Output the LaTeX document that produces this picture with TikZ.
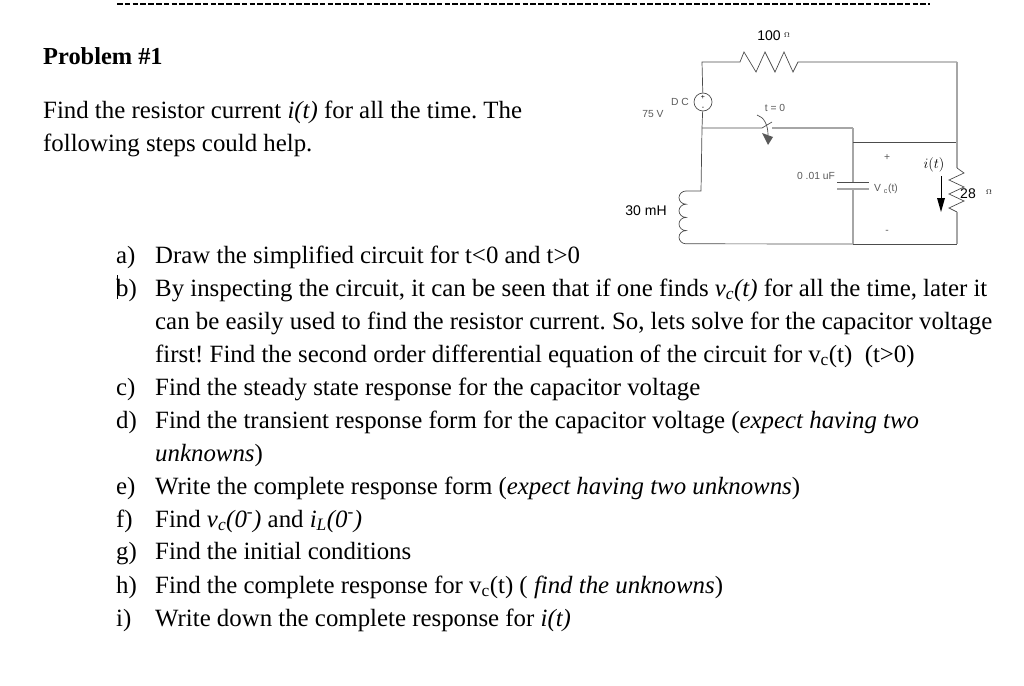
\documentclass[tikz,border=0pt]{standalone}
\usepackage{fontspec}
\setmainfont{Liberation Serif}
\setsansfont{Liberation Sans}
\usepackage{tikz}
\tikzset{
	line/.style={anchor=base west, inner sep=0pt, font=\fontsize{24.85}{25}\selectfont\frenchspacing},
	wire/.style={color=black!70, line width=0.7pt},
	greywire/.style={color=black!35, line width=1.2pt},
	small/.style={inner sep=0pt, font=\sffamily\fontsize{10.3}{11}\selectfont, color=black!65},
	big/.style={inner sep=0pt, font=\sffamily\fontsize{14}{14}\selectfont},
	ohm/.style={inner sep=0pt, font=\fontsize{7}{7}\selectfont}
}
\begin{document}
\begin{tikzpicture}[x=1pt, y=-1pt]
	\useasboundingbox (0, 0) rectangle (1024, 685);
	% top rule
	\draw [color=black, line width=1.5pt, dash pattern=on 5.6pt off 2.2pt] (117, 4) -- (930, 4);
	% text
	\node [line, font=\bfseries\fontsize{24.4}{25}\selectfont] (title) at (43, 64) {Problem \#1};
	\node [line] (intro1) at (43, 118) {Find the resistor current \textit{i(t)} for all the time. The};
	\node [line] (intro2) at (43, 151) {following steps could help.};
	\foreach \lab/\ypos in {a)/263, b)/296, c)/395, d)/428, e)/494, f)/527, g)/559, h)/593, i)/626}
		\node [line] at (116, \ypos) {\lab};
	\draw [color=black, line width=0.7pt] (117, 275) -- (117, 299);
	\node [line] (parta) at (155, 263) {Draw the simplified circuit for t<0 and t>0};
	\node [line] (partb1) at (155, 296) {By inspecting the circuit, it can be seen that if one finds \textit{v\textsubscript{c}(t)}\ for all the time, later it};
	\node [line] (partb2) at (155, 329) {can be easily used to find the resistor current. So, lets solve for the capacitor voltage};
	\node [line] (partb3) at (155, 362) {first! Find the second order differential equation of the circuit for v\textsubscript{c}(t)\ \ (t>0)};
	\node [line] (partc) at (155, 395) {Find the steady state response for the capacitor voltage};
	\node [line] (partd1) at (155, 428) {Find the transient response form for the capacitor voltage (\textit{expect having two}};
	\node [line] (partd2) at (155, 461) {\textit{unknowns})};
	\node [line] (parte) at (155, 494) {Write the complete response form (\textit{expect having two unknowns})};
	\node [line] (partf) at (155, 527) {Find \textit{v\textsubscript{c}(0\textsuperscript{-})} and \textit{i\textsubscript{L}(0\textsuperscript{-})}};
	\node [line] (partg) at (155, 559) {Find the initial conditions};
	\node [line] (parth) at (155, 593) {Find the complete response for v\textsubscript{c}(t) (\textit{ find the unknowns})};
	\node [line] (parti) at (155, 626) {Write down the complete response for \textit{i(t)}};
	% circuit
	\coordinate (topleft) at (702, 62);
	\coordinate (topright) at (957, 62);
	\coordinate (midright) at (957, 142);
	\coordinate (midcap) at (853, 142);
	\coordinate (capnode) at (853, 128);
	\coordinate (swnode) at (702, 128);
	\coordinate (botcap) at (853, 244);
	\coordinate (botright) at (957, 244);
	\node [draw=black!70, circle, minimum size=18pt, inner sep=0pt, line width=0.7pt] (source) at (703, 102) {};
	\node [inner sep=0pt, font=\sffamily\fontsize{7}{7}\selectfont] at (703, 97) {+};
	\node [inner sep=0pt, font=\sffamily\fontsize{7}{7}\selectfont] at (703, 108) {-};
	\draw [wire] (source) -- (topleft) -- (740, 62) -- (744, 52) -- (756, 72) -- (765, 52) -- (775, 72) -- (784, 52) -- (793, 72) -- (798, 62) -- (topright);
	\draw [greywire] (topright) -- (midright);
	\draw [wire] (source) -- (swnode) -- (701, 191) -- (686, 191);
	\draw [wire] (686, 191) arc (270:90:7 and 6.6) arc (270:90:7 and 6.6) arc (270:90:7 and 6.6) arc (270:90:7 and 6.6) -- (botcap);
	\draw [wire] (swnode) -- (762, 128) -- (772, 122);
	\draw [greywire] (772, 128) -- (capnode);
	\draw [greywire] (capnode) -- (853, 182);
	\draw [greywire] (853, 189) -- (botcap);
	\draw [wire] (midcap) -- (midright);
	\draw [wire] (botcap) -- (botright);
	\draw [greywire] (midright) -- (957, 168);
	\draw [wire] (957, 168) -- (964, 173) -- (949, 180) -- (964, 187) -- (949, 194) -- (964, 201) -- (949, 208) -- (957, 212);
	\draw [greywire] (957, 212) -- (botright);
	\draw [wire] (837, 182) -- (869, 182);
	\draw [greywire] (837, 189) -- (869, 189);
	\draw [wire] (757, 115) .. controls (764, 117) and (768, 125) .. (768, 135);
	\fill [color=black!65] (762, 133) -- (773, 137) -- (768, 145) -- cycle;
	\draw [color=black, line width=1pt] (941, 176) -- (941, 200);
	\fill [color=black] (937, 198) -- (945, 198) -- (941, 212) -- cycle;
	% labels
	\node [big] at (769, 36) {100};
	\node [ohm] at (787, 35) {$\Omega$};
	\node [small] at (680, 102) {D C};
	\node [small] at (653, 114) {75 V};
	\node [small] at (775, 108) {t = 0};
	\node [big] at (646, 211) {30 mH};
	\node [small] at (816, 176) {0 .01 uF};
	\node [small] at (886, 189) {V \textsubscript{c}(t)};
	\node [small] at (887, 158) {+};
	\node [small] at (887, 232) {-};
	\node [inner sep=0pt, font=\fontsize{15}{15}\selectfont] at (934, 165) {$i(t)$};
	\node [big] at (968, 194) {28};
	\node [ohm] at (989, 192) {$\Omega$};
\end{tikzpicture}
\end{document}
